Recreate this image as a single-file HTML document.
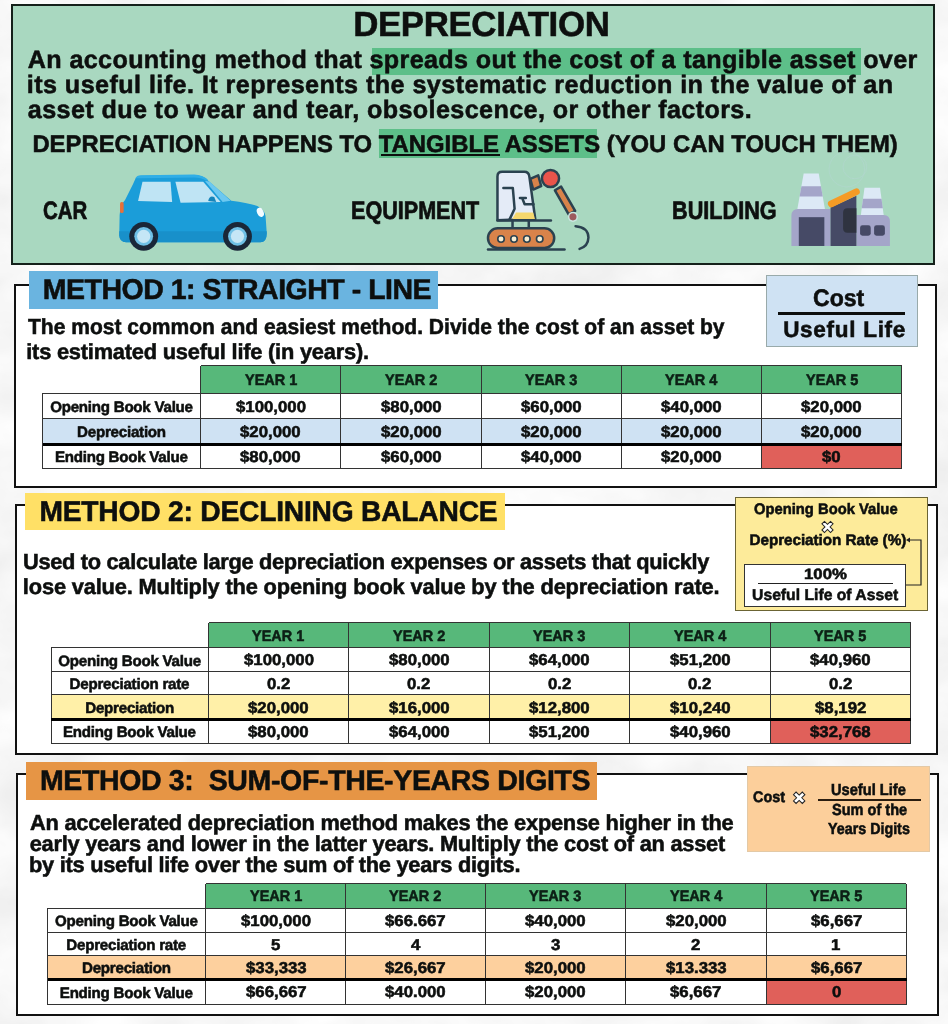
<!DOCTYPE html>
<html><head><meta charset="utf-8"><title>Depreciation</title>
<style>
html,body{margin:0;padding:0}
body{width:948px;height:1024px;position:relative;overflow:hidden;background:#efefef;font-family:"Liberation Sans","DejaVu Sans",sans-serif;font-weight:bold}
.r{position:absolute}
.t{text-rendering:geometricPrecision;-webkit-text-stroke:0.55px currentColor;position:absolute;white-space:pre;line-height:1;transform-origin:0 0;font-weight:bold}
svg{position:absolute;overflow:visible}
</style></head><body>
<svg style="left:0;top:0" width="948" height="1024"><filter id="mb" x="0" y="0" width="100%" height="100%"><feTurbulence type="fractalNoise" baseFrequency="0.011 0.017" numOctaves="4" seed="7"/><feColorMatrix type="matrix" values="0.22 0 0 0 0.815  0.22 0 0 0 0.815  0.22 0 0 0 0.815  0 0 0 0 1"/></filter><rect width="948" height="1024" filter="url(#mb)"/></svg>
<div class="r" style="left:11.20px;top:4.10px;width:923.80px;height:261.30px;background:#a9d8c0;border:2px solid #14201a;box-sizing:border-box;"></div>
<div class="r" style="left:372.00px;top:47.50px;width:488.70px;height:27.10px;background:#5dbf89;"></div>
<div class="r" style="left:379.00px;top:129.00px;width:218.40px;height:28.60px;background:#5dbf89;"></div>
<span class="t" style="left:353.16px;top:8.44px;font-size:34.88px;letter-spacing:-0.388px;color:#0d0f0e;">DEPRECIATION</span>
<span class="t" style="left:27.87px;top:47.68px;font-size:25.15px;letter-spacing:0.354px;color:#0d0f0e;">An accounting method that spreads out the cost of a tangible asset over</span>
<span class="t" style="left:26.74px;top:73.05px;font-size:25.15px;letter-spacing:0.442px;color:#0d0f0e;">its useful life. It represents the systematic reduction in the value of an</span>
<span class="t" style="left:27.77px;top:97.68px;font-size:25.15px;letter-spacing:0.389px;color:#0d0f0e;">asset due to wear and tear, obsolescence, or other factors.</span>
<span class="t" style="left:32.40px;top:132.79px;font-size:23.84px;letter-spacing:0.015px;color:#0d0f0e;">DEPRECIATION HAPPENS TO TANGIBLE ASSETS (YOU CAN TOUCH THEM)</span>
<div class="r" style="left:380.50px;top:154.00px;width:119.00px;height:2.20px;background:#0d0f0e;"></div>
<span class="t" style="left:42.66px;top:198.68px;font-size:25.15px;transform:scaleX(0.8129);color:#0d0f0e;-webkit-text-stroke:0.7px currentColor;">CAR</span>
<span class="t" style="left:350.55px;top:198.68px;font-size:25.15px;transform:scaleX(0.8582);color:#0d0f0e;-webkit-text-stroke:0.7px currentColor;">EQUIPMENT</span>
<span class="t" style="left:672.05px;top:198.68px;font-size:25.15px;transform:scaleX(0.8616);color:#0d0f0e;-webkit-text-stroke:0.7px currentColor;">BUILDING</span>
<div class="r" style="left:13.70px;top:284.10px;width:923.30px;height:204.40px;background:#fff;border:2px solid #111;box-sizing:border-box;"></div>
<div class="r" style="left:28.50px;top:271.30px;width:409.00px;height:37.45px;background:#6ab4e0;"></div>
<span class="t" style="left:42.79px;top:276.25px;font-size:28.49px;letter-spacing:-0.481px;color:#0d0f0e;">METHOD 1: STRAIGHT - LINE</span>
<span class="t" style="left:27.57px;top:315.84px;font-size:21.80px;transform:scaleX(0.9649);color:#0d0f0e;">The most common and easiest method. Divide the cost of an asset by</span>
<span class="t" style="left:26.27px;top:340.91px;font-size:21.80px;letter-spacing:-0.204px;color:#0d0f0e;">its estimated useful life (in years).</span>
<div class="r" style="left:765.50px;top:275.00px;width:152.50px;height:71.50px;background:#cfe2f3;border:1px solid #9aa;box-sizing:border-box;"></div>
<span class="t" style="left:813.25px;top:287.19px;font-size:23.84px;transform:scaleX(0.9674);color:#0d0f0e;">Cost</span>
<div class="r" style="left:778.00px;top:311.80px;width:127.20px;height:3.00px;background:#0d0f0e;"></div>
<span class="t" style="left:783.15px;top:318.77px;font-size:22.53px;letter-spacing:0.710px;color:#0d0f0e;">Useful Life</span>
<div class="r" style="left:200.50px;top:365.70px;width:701.30px;height:27.60px;background:#57b87a;"></div>
<div class="r" style="left:42.80px;top:393.30px;width:859.00px;height:25.40px;background:#fff;"></div>
<div class="r" style="left:42.80px;top:418.70px;width:859.00px;height:24.80px;background:#cfe2f3;"></div>
<div class="r" style="left:42.80px;top:443.50px;width:859.00px;height:24.80px;background:#fff;"></div>
<div class="r" style="left:761.30px;top:443.50px;width:140.50px;height:24.80px;background:#e0605a;"></div>
<div class="r" style="left:42.30px;top:393.30px;width:1.00px;height:75.00px;background:#333;"></div>
<div class="r" style="left:200.00px;top:365.70px;width:1.00px;height:102.60px;background:#333;"></div>
<div class="r" style="left:340.10px;top:365.70px;width:1.00px;height:102.60px;background:#333;"></div>
<div class="r" style="left:480.50px;top:365.70px;width:1.00px;height:102.60px;background:#333;"></div>
<div class="r" style="left:620.50px;top:365.70px;width:1.00px;height:102.60px;background:#333;"></div>
<div class="r" style="left:760.80px;top:365.70px;width:1.00px;height:102.60px;background:#333;"></div>
<div class="r" style="left:901.30px;top:365.70px;width:1.00px;height:102.60px;background:#333;"></div>
<div class="r" style="left:200.50px;top:365.20px;width:701.30px;height:1.00px;background:#333;"></div>
<div class="r" style="left:42.30px;top:392.80px;width:860.00px;height:1.00px;background:#333;"></div>
<div class="r" style="left:42.30px;top:418.20px;width:860.00px;height:1.00px;background:#333;"></div>
<div class="r" style="left:42.80px;top:442.80px;width:859.00px;height:2.80px;background:#000;"></div>
<div class="r" style="left:42.30px;top:467.80px;width:860.00px;height:1.00px;background:#333;"></div>
<span class="t" style="left:244.51px;top:372.74px;font-size:15.12px;transform:scaleX(0.9570);color:#0c1f15;">YEAR 1</span>
<span class="t" style="left:384.85px;top:372.74px;font-size:15.12px;transform:scaleX(0.9570);color:#0c1f15;">YEAR 2</span>
<span class="t" style="left:525.02px;top:372.74px;font-size:15.12px;transform:scaleX(0.9570);color:#0c1f15;">YEAR 3</span>
<span class="t" style="left:664.94px;top:372.74px;font-size:15.12px;transform:scaleX(0.9570);color:#0c1f15;">YEAR 4</span>
<span class="t" style="left:805.51px;top:372.74px;font-size:15.12px;transform:scaleX(0.9570);color:#0c1f15;">YEAR 5</span>
<span class="t" style="left:50.21px;top:399.74px;font-size:15.12px;letter-spacing:-0.244px;color:#0d0f0e;">Opening Book Value</span>
<span class="t" style="left:235.78px;top:400.05px;font-size:15.70px;transform:scaleX(1.0700);color:#0d0f0e;">$100,000</span>
<span class="t" style="left:380.69px;top:400.05px;font-size:15.70px;transform:scaleX(1.0700);color:#0d0f0e;">$80,000</span>
<span class="t" style="left:520.89px;top:400.04px;font-size:15.70px;transform:scaleX(1.0700);color:#0d0f0e;">$60,000</span>
<span class="t" style="left:661.04px;top:400.05px;font-size:15.70px;transform:scaleX(1.0700);color:#0d0f0e;">$40,000</span>
<span class="t" style="left:801.44px;top:400.05px;font-size:15.70px;transform:scaleX(1.0700);color:#0d0f0e;">$20,000</span>
<span class="t" style="left:77.12px;top:424.50px;font-size:15.12px;letter-spacing:-0.232px;color:#0d0f0e;">Depreciation</span>
<span class="t" style="left:240.44px;top:425.35px;font-size:15.70px;transform:scaleX(1.0700);color:#0d0f0e;">$20,000</span>
<span class="t" style="left:380.69px;top:425.35px;font-size:15.70px;transform:scaleX(1.0700);color:#0d0f0e;">$20,000</span>
<span class="t" style="left:520.89px;top:425.34px;font-size:15.70px;transform:scaleX(1.0700);color:#0d0f0e;">$20,000</span>
<span class="t" style="left:661.04px;top:425.35px;font-size:15.70px;transform:scaleX(1.0700);color:#0d0f0e;">$20,000</span>
<span class="t" style="left:801.44px;top:425.35px;font-size:15.70px;transform:scaleX(1.0700);color:#0d0f0e;">$20,000</span>
<span class="t" style="left:54.90px;top:450.37px;font-size:15.12px;letter-spacing:-0.241px;color:#0d0f0e;">Ending Book Value</span>
<span class="t" style="left:240.44px;top:450.08px;font-size:15.70px;transform:scaleX(1.0700);color:#0d0f0e;">$80,000</span>
<span class="t" style="left:380.69px;top:450.08px;font-size:15.70px;transform:scaleX(1.0700);color:#0d0f0e;">$60,000</span>
<span class="t" style="left:520.89px;top:450.07px;font-size:15.70px;transform:scaleX(1.0700);color:#0d0f0e;">$40,000</span>
<span class="t" style="left:661.04px;top:450.08px;font-size:15.70px;transform:scaleX(1.0700);color:#0d0f0e;">$20,000</span>
<span class="t" style="left:822.45px;top:450.08px;font-size:15.70px;transform:scaleX(1.0700);color:#0d0f0e;">$0</span>
<div class="r" style="left:14.80px;top:504.40px;width:923.20px;height:250.80px;background:#fff;border:2px solid #111;box-sizing:border-box;"></div>
<div class="r" style="left:25.40px;top:493.40px;width:479.60px;height:36.80px;background:#ffe066;"></div>
<span class="t" style="left:39.51px;top:497.03px;font-size:28.20px;letter-spacing:-0.209px;color:#0d0f0e;">METHOD 2: DECLINING BALANCE</span>
<span class="t" style="left:23.09px;top:550.71px;font-size:21.80px;letter-spacing:-0.316px;color:#0d0f0e;">Used to calculate large depreciation expenses or assets that quickly</span>
<span class="t" style="left:22.87px;top:576.11px;font-size:21.80px;letter-spacing:-0.157px;color:#0d0f0e;">lose value. Multiply the opening book value by the depreciation rate.</span>
<div class="r" style="left:208.50px;top:622.60px;width:702.00px;height:24.90px;background:#57b87a;"></div>
<div class="r" style="left:51.00px;top:647.50px;width:859.50px;height:23.80px;background:#fff;"></div>
<div class="r" style="left:51.00px;top:671.30px;width:859.50px;height:23.20px;background:#fff;"></div>
<div class="r" style="left:51.00px;top:694.50px;width:859.50px;height:24.50px;background:#fff0a8;"></div>
<div class="r" style="left:51.00px;top:719.00px;width:859.50px;height:24.40px;background:#fff;"></div>
<div class="r" style="left:770.00px;top:719.00px;width:140.50px;height:24.40px;background:#e0605a;"></div>
<div class="r" style="left:50.50px;top:647.50px;width:1.00px;height:95.90px;background:#333;"></div>
<div class="r" style="left:208.00px;top:622.60px;width:1.00px;height:120.80px;background:#333;"></div>
<div class="r" style="left:348.00px;top:622.60px;width:1.00px;height:120.80px;background:#333;"></div>
<div class="r" style="left:488.50px;top:622.60px;width:1.00px;height:120.80px;background:#333;"></div>
<div class="r" style="left:629.00px;top:622.60px;width:1.00px;height:120.80px;background:#333;"></div>
<div class="r" style="left:769.50px;top:622.60px;width:1.00px;height:120.80px;background:#333;"></div>
<div class="r" style="left:910.00px;top:622.60px;width:1.00px;height:120.80px;background:#333;"></div>
<div class="r" style="left:208.50px;top:622.10px;width:702.00px;height:1.00px;background:#333;"></div>
<div class="r" style="left:50.50px;top:647.00px;width:860.50px;height:1.00px;background:#333;"></div>
<div class="r" style="left:50.50px;top:670.80px;width:860.50px;height:1.00px;background:#333;"></div>
<div class="r" style="left:50.50px;top:694.00px;width:860.50px;height:1.00px;background:#333;"></div>
<div class="r" style="left:51.00px;top:718.30px;width:859.50px;height:2.80px;background:#000;"></div>
<div class="r" style="left:50.50px;top:742.90px;width:860.50px;height:1.00px;background:#333;"></div>
<span class="t" style="left:252.46px;top:628.67px;font-size:15.12px;transform:scaleX(0.9570);color:#0c1f15;">YEAR 1</span>
<span class="t" style="left:392.80px;top:628.67px;font-size:15.12px;transform:scaleX(0.9570);color:#0c1f15;">YEAR 2</span>
<span class="t" style="left:533.27px;top:628.67px;font-size:15.12px;transform:scaleX(0.9570);color:#0c1f15;">YEAR 3</span>
<span class="t" style="left:673.54px;top:628.67px;font-size:15.12px;transform:scaleX(0.9570);color:#0c1f15;">YEAR 4</span>
<span class="t" style="left:814.21px;top:628.67px;font-size:15.12px;transform:scaleX(0.9570);color:#0c1f15;">YEAR 5</span>
<span class="t" style="left:58.31px;top:653.94px;font-size:15.12px;letter-spacing:-0.244px;color:#0d0f0e;">Opening Book Value</span>
<span class="t" style="left:243.73px;top:653.08px;font-size:15.70px;transform:scaleX(1.0700);color:#0d0f0e;">$100,000</span>
<span class="t" style="left:388.64px;top:653.08px;font-size:15.70px;transform:scaleX(1.0700);color:#0d0f0e;">$80,000</span>
<span class="t" style="left:529.14px;top:653.08px;font-size:15.70px;transform:scaleX(1.0700);color:#0d0f0e;">$64,000</span>
<span class="t" style="left:669.64px;top:653.08px;font-size:15.70px;transform:scaleX(1.0700);color:#0d0f0e;">$51,200</span>
<span class="t" style="left:810.14px;top:653.08px;font-size:15.70px;transform:scaleX(1.0700);color:#0d0f0e;">$40,960</span>
<span class="t" style="left:69.52px;top:677.37px;font-size:15.12px;letter-spacing:-0.217px;color:#0d0f0e;">Depreciation rate</span>
<span class="t" style="left:266.83px;top:677.08px;font-size:15.70px;transform:scaleX(1.0700);color:#0d0f0e;">0.2</span>
<span class="t" style="left:407.08px;top:677.08px;font-size:15.70px;transform:scaleX(1.0700);color:#0d0f0e;">0.2</span>
<span class="t" style="left:547.58px;top:677.08px;font-size:15.70px;transform:scaleX(1.0700);color:#0d0f0e;">0.2</span>
<span class="t" style="left:688.08px;top:677.08px;font-size:15.70px;transform:scaleX(1.0700);color:#0d0f0e;">0.2</span>
<span class="t" style="left:828.58px;top:677.08px;font-size:15.70px;transform:scaleX(1.0700);color:#0d0f0e;">0.2</span>
<span class="t" style="left:85.22px;top:701.07px;font-size:15.12px;letter-spacing:-0.232px;color:#0d0f0e;">Depreciation</span>
<span class="t" style="left:248.39px;top:700.78px;font-size:15.70px;transform:scaleX(1.0700);color:#0d0f0e;">$20,000</span>
<span class="t" style="left:388.64px;top:700.78px;font-size:15.70px;transform:scaleX(1.0700);color:#0d0f0e;">$16,000</span>
<span class="t" style="left:529.14px;top:700.78px;font-size:15.70px;transform:scaleX(1.0700);color:#0d0f0e;">$12,800</span>
<span class="t" style="left:669.64px;top:700.78px;font-size:15.70px;transform:scaleX(1.0700);color:#0d0f0e;">$10,240</span>
<span class="t" style="left:814.81px;top:700.78px;font-size:15.70px;transform:scaleX(1.0700);color:#0d0f0e;">$8,192</span>
<span class="t" style="left:63.00px;top:724.60px;font-size:15.12px;letter-spacing:-0.241px;color:#0d0f0e;">Ending Book Value</span>
<span class="t" style="left:248.39px;top:724.68px;font-size:15.70px;transform:scaleX(1.0700);color:#0d0f0e;">$80,000</span>
<span class="t" style="left:388.64px;top:724.68px;font-size:15.70px;transform:scaleX(1.0700);color:#0d0f0e;">$64,000</span>
<span class="t" style="left:529.14px;top:724.68px;font-size:15.70px;transform:scaleX(1.0700);color:#0d0f0e;">$51,200</span>
<span class="t" style="left:669.64px;top:724.68px;font-size:15.70px;transform:scaleX(1.0700);color:#0d0f0e;">$40,960</span>
<span class="t" style="left:810.05px;top:724.68px;font-size:15.70px;transform:scaleX(1.0700);color:#0d0f0e;">$32,768</span>
<div class="r" style="left:734.50px;top:496.80px;width:193.30px;height:114.70px;background:#fdeb9a;border:1.2px solid #6b6434;box-sizing:border-box;"></div>
<span class="t" style="left:754.39px;top:501.92px;font-size:15.26px;transform:scaleX(0.9684);color:#0d0f0e;">Opening Book Value</span>
<span class="t" style="left:820.50px;top:519.82px;font-size:16.72px;transform:scaleX(1.0000);color:#fff;-webkit-text-stroke:1px #222;">✖</span>
<span class="t" style="left:749.48px;top:533.05px;font-size:15.26px;letter-spacing:-0.042px;color:#0d0f0e;">Depreciation Rate (%)</span>
<div class="r" style="left:744.00px;top:564.00px;width:161.50px;height:43.00px;background:#fff;border:1px solid #333;box-sizing:border-box;"></div>
<span class="t" style="left:803.75px;top:568.30px;font-size:14.97px;transform:scaleX(1.1200);color:#0d0f0e;">100%</span>
<div class="r" style="left:758.00px;top:582.50px;width:135.00px;height:1.20px;background:#222;"></div>
<span class="t" style="left:752.06px;top:587.68px;font-size:15.70px;letter-spacing:0.013px;color:#0d0f0e;">Useful Life of Asset</span>
<svg style="left:0;top:0" width="948" height="1024"><path d="M908 540 H921 V585 H906" fill="none" stroke="#222" stroke-width="1.2"/><path d="M906 540 l4 -2.5 v5z" fill="#222"/></svg>
<div class="r" style="left:15.50px;top:772.50px;width:923.70px;height:243.20px;background:#fff;border:2px solid #111;box-sizing:border-box;"></div>
<div class="r" style="left:26.20px;top:761.60px;width:571.10px;height:38.40px;background:#e69545;"></div>
<span class="t" style="left:39.89px;top:766.85px;font-size:28.49px;letter-spacing:-0.335px;color:#0d0f0e;">METHOD 3:  SUM-OF-THE-YEARS DIGITS</span>
<span class="t" style="left:29.95px;top:811.74px;font-size:21.80px;letter-spacing:-0.224px;color:#0d0f0e;">An accelerated depreciation method makes the expense higher in the</span>
<span class="t" style="left:29.65px;top:832.54px;font-size:21.80px;letter-spacing:-0.235px;color:#0d0f0e;">early years and lower in the latter years. Multiply the cost of an asset</span>
<span class="t" style="left:29.06px;top:854.04px;font-size:21.80px;letter-spacing:-0.268px;color:#0d0f0e;">by its useful life over the sum of the years digits.</span>
<div class="r" style="left:205.60px;top:883.70px;width:700.90px;height:24.30px;background:#57b87a;"></div>
<div class="r" style="left:47.50px;top:908.00px;width:859.00px;height:24.30px;background:#fff;"></div>
<div class="r" style="left:47.50px;top:932.30px;width:859.00px;height:23.30px;background:#fff;"></div>
<div class="r" style="left:47.50px;top:955.60px;width:859.00px;height:23.40px;background:#fdd09e;"></div>
<div class="r" style="left:47.50px;top:979.00px;width:859.00px;height:25.20px;background:#fff;"></div>
<div class="r" style="left:766.00px;top:979.00px;width:140.50px;height:25.20px;background:#e0605a;"></div>
<div class="r" style="left:47.00px;top:908.00px;width:1.00px;height:96.20px;background:#333;"></div>
<div class="r" style="left:205.10px;top:883.70px;width:1.00px;height:120.50px;background:#333;"></div>
<div class="r" style="left:345.30px;top:883.70px;width:1.00px;height:120.50px;background:#333;"></div>
<div class="r" style="left:484.50px;top:883.70px;width:1.00px;height:120.50px;background:#333;"></div>
<div class="r" style="left:625.00px;top:883.70px;width:1.00px;height:120.50px;background:#333;"></div>
<div class="r" style="left:765.50px;top:883.70px;width:1.00px;height:120.50px;background:#333;"></div>
<div class="r" style="left:906.00px;top:883.70px;width:1.00px;height:120.50px;background:#333;"></div>
<div class="r" style="left:205.60px;top:883.20px;width:700.90px;height:1.00px;background:#333;"></div>
<div class="r" style="left:47.00px;top:907.50px;width:860.00px;height:1.00px;background:#333;"></div>
<div class="r" style="left:47.00px;top:931.80px;width:860.00px;height:1.00px;background:#333;"></div>
<div class="r" style="left:47.00px;top:955.10px;width:860.00px;height:1.00px;background:#333;"></div>
<div class="r" style="left:47.50px;top:978.30px;width:859.00px;height:2.80px;background:#000;"></div>
<div class="r" style="left:47.00px;top:1003.70px;width:860.00px;height:1.00px;background:#333;"></div>
<span class="t" style="left:249.66px;top:888.75px;font-size:15.12px;transform:scaleX(0.9570);color:#0c1f15;">YEAR 1</span>
<span class="t" style="left:389.45px;top:888.75px;font-size:15.12px;transform:scaleX(0.9570);color:#0c1f15;">YEAR 2</span>
<span class="t" style="left:529.27px;top:888.75px;font-size:15.12px;transform:scaleX(0.9570);color:#0c1f15;">YEAR 3</span>
<span class="t" style="left:669.54px;top:888.75px;font-size:15.12px;transform:scaleX(0.9570);color:#0c1f15;">YEAR 4</span>
<span class="t" style="left:810.21px;top:888.75px;font-size:15.12px;transform:scaleX(0.9570);color:#0c1f15;">YEAR 5</span>
<span class="t" style="left:55.11px;top:913.55px;font-size:15.12px;letter-spacing:-0.244px;color:#0d0f0e;">Opening Book Value</span>
<span class="t" style="left:240.93px;top:913.57px;font-size:15.70px;transform:scaleX(1.0700);color:#0d0f0e;">$100,000</span>
<span class="t" style="left:385.31px;top:913.58px;font-size:15.70px;transform:scaleX(1.0700);color:#0d0f0e;">$66.667</span>
<span class="t" style="left:525.14px;top:913.58px;font-size:15.70px;transform:scaleX(1.0700);color:#0d0f0e;">$40,000</span>
<span class="t" style="left:665.64px;top:913.58px;font-size:15.70px;transform:scaleX(1.0700);color:#0d0f0e;">$20,000</span>
<span class="t" style="left:810.84px;top:913.58px;font-size:15.70px;transform:scaleX(1.0700);color:#0d0f0e;">$6,667</span>
<span class="t" style="left:66.32px;top:938.47px;font-size:15.12px;letter-spacing:-0.217px;color:#0d0f0e;">Depreciation rate</span>
<span class="t" style="left:271.00px;top:938.18px;font-size:15.70px;transform:scaleX(1.0700);color:#0d0f0e;">5</span>
<span class="t" style="left:410.64px;top:938.18px;font-size:15.70px;transform:scaleX(1.0700);color:#0d0f0e;">4</span>
<span class="t" style="left:550.69px;top:938.18px;font-size:15.70px;transform:scaleX(1.0700);color:#0d0f0e;">3</span>
<span class="t" style="left:691.12px;top:938.18px;font-size:15.70px;transform:scaleX(1.0700);color:#0d0f0e;">2</span>
<span class="t" style="left:831.28px;top:938.18px;font-size:15.70px;transform:scaleX(1.0700);color:#0d0f0e;">1</span>
<span class="t" style="left:82.02px;top:960.70px;font-size:15.12px;letter-spacing:-0.232px;color:#0d0f0e;">Depreciation</span>
<span class="t" style="left:245.55px;top:960.88px;font-size:15.70px;transform:scaleX(1.0700);color:#0d0f0e;">$33,333</span>
<span class="t" style="left:385.31px;top:960.88px;font-size:15.70px;transform:scaleX(1.0700);color:#0d0f0e;">$26,667</span>
<span class="t" style="left:525.14px;top:960.88px;font-size:15.70px;transform:scaleX(1.0700);color:#0d0f0e;">$20,000</span>
<span class="t" style="left:665.60px;top:960.88px;font-size:15.70px;transform:scaleX(1.0700);color:#0d0f0e;">$13.333</span>
<span class="t" style="left:810.84px;top:960.88px;font-size:15.70px;transform:scaleX(1.0700);color:#0d0f0e;">$6,667</span>
<span class="t" style="left:59.80px;top:985.77px;font-size:15.12px;letter-spacing:-0.241px;color:#0d0f0e;">Ending Book Value</span>
<span class="t" style="left:245.61px;top:985.48px;font-size:15.70px;transform:scaleX(1.0700);color:#0d0f0e;">$66,667</span>
<span class="t" style="left:385.29px;top:985.48px;font-size:15.70px;transform:scaleX(1.0700);color:#0d0f0e;">$40.000</span>
<span class="t" style="left:525.14px;top:985.48px;font-size:15.70px;transform:scaleX(1.0700);color:#0d0f0e;">$20,000</span>
<span class="t" style="left:670.34px;top:985.48px;font-size:15.70px;transform:scaleX(1.0700);color:#0d0f0e;">$6,667</span>
<span class="t" style="left:831.59px;top:985.48px;font-size:15.70px;transform:scaleX(1.0700);color:#0d0f0e;">0</span>
<div class="r" style="left:747.00px;top:766.00px;width:183.00px;height:86.00px;background:#fccf9b;border:1px solid #e3c9a6;box-sizing:border-box;"></div>
<span class="t" style="left:753.21px;top:789.80px;font-size:15.41px;transform:scaleX(0.9333);color:#0d0f0e;">Cost</span>
<span class="t" style="left:792.11px;top:790.05px;font-size:17.15px;transform:scaleX(1.0000);color:#fff;-webkit-text-stroke:1px #222;">✖</span>
<span class="t" style="left:830.62px;top:783.43px;font-size:15.99px;transform:scaleX(0.9162);color:#0d0f0e;">Useful Life</span>
<div class="r" style="left:818.00px;top:799.40px;width:102.70px;height:1.40px;background:#2a1d10;"></div>
<span class="t" style="left:832.08px;top:802.63px;font-size:15.99px;transform:scaleX(0.9096);color:#0d0f0e;">Sum of the</span>
<span class="t" style="left:827.76px;top:822.43px;font-size:15.99px;transform:scaleX(0.8942);color:#0d0f0e;">Years Digits</span>
<svg style="left:100px;top:165px" width="190" height="95" viewBox="0 0 948 474">
<path d="M175 72 Q180 55 205 54 L470 50 Q515 52 540 78 L655 178 Q740 188 785 205 Q820 222 826 255 L832 340 Q832 384 800 386 L130 386 Q98 384 96 350 L98 250 Q100 200 125 175 L165 95 Z" fill="#1b9dd9"/>
<path d="M96 330 L832 330 L832 340 Q832 384 800 386 L130 386 Q98 384 96 350 Z" fill="#1890ca"/>
<path d="M178 66 Q182 52 205 51 L470 47 Q512 49 538 72 L530 78 Q505 62 470 62 L205 66 Z" fill="#30aee6"/>
<path d="M212 84 L352 84 L360 184 L190 180 Z" fill="#bfe4f4"/>
<path d="M376 84 L515 84 L602 184 L402 188 Z" fill="#bfe4f4"/>
<path d="M540 180 Q545 150 570 160 L580 184 Z" fill="#1685bb"/>
<path d="M524 80 L546 82 L652 178 L612 184 Z" fill="#6cc8f0"/>
<ellipse cx="800" cy="236" rx="16" ry="24" fill="#f4fbff" transform="rotate(-25 800 236)"/>
<rect x="100" y="185" width="18" height="55" rx="8" fill="#e8703a"/>
<circle cx="218" cy="356" r="72" fill="#1a2738"/><circle cx="218" cy="356" r="47" fill="#6fc0e6"/><circle cx="218" cy="356" r="33" fill="#c5e6f6"/>
<circle cx="686" cy="356" r="72" fill="#1a2738"/><circle cx="686" cy="356" r="47" fill="#6fc0e6"/><circle cx="686" cy="356" r="33" fill="#c5e6f6"/>
</svg>
<svg style="left:470px;top:160px" width="140" height="100" viewBox="0 0 948 677">
<g stroke="#2b4250" stroke-width="17" stroke-linecap="round" stroke-linejoin="round" fill="none">
<path d="M408 128 L462 104 L482 176 L428 200 Z" fill="#d9834a"/>
<path d="M575 205 L617 180 L712 345 L668 368 Z" fill="#d9834a"/>
<path d="M186 408 L186 112 Q186 80 218 80 L368 80 Q398 80 402 112 L442 400 Z" fill="#e4ebf7"/>
<path d="M312 356 L428 356 L440 400 L286 400 Z" fill="#f5d76e" stroke="none"/>
<path d="M226 190 L290 190 L302 330 L268 402"/>
<path d="M338 258 L378 258"/><path d="M356 264 L370 300 L430 300"/>
<path d="M186 410 L548 410"/>
<path d="M288 416 L288 460"/><path d="M398 416 L398 460"/>
<rect x="122" y="462" width="448" height="134" rx="66" fill="#d9834a"/>
<path d="M122 606 L640 606"/>
<circle cx="545" cy="125" r="58" fill="#e9544b"/>
<path d="M715 448 Q800 455 802 525 Q800 585 742 602"/>
</g>
<circle cx="697" cy="385" r="34" fill="#c9e6df"/><circle cx="697" cy="385" r="24" fill="#9c5b5e"/>
<g fill="#f8eed2" stroke="#2b4250" stroke-width="11"><circle cx="210" cy="535" r="22"/><circle cx="298" cy="535" r="22"/><circle cx="385" cy="535" r="22"/><circle cx="472" cy="535" r="22"/></g>
</svg>
<svg style="left:770px;top:150px" width="140" height="110" viewBox="0 0 948 745">
<g fill="none" stroke="#b4d6d2" stroke-width="5" opacity="0.7"><circle cx="520" cy="130" r="120"/><circle cx="575" cy="115" r="80"/></g>
<path d="M228 160 L330 160 L372 402 L185 402 Z" fill="#dce9f6"/>
<path d="M213 245 L345 245 L357 315 L200 315 Z" fill="#a4a5c9"/>
<path d="M640 255 L745 255 L770 442 L615 442 Z" fill="#dce9f6"/>
<path d="M630 330 L755 330 L764 395 L621 395 Z" fill="#a4a5c9"/>
<path d="M145 650 L145 445 Q145 400 190 400 L410 400 L410 650 Z" fill="#a4a5c9"/>
<rect x="195" y="455" width="173" height="195" fill="#464a66"/>
<path d="M585 650 L585 440 L770 440 Q812 440 812 485 L812 650 Z" fill="#a4a5c9"/>
<path d="M410 650 L410 390 L585 310 L585 650 Z" fill="#464a66"/>
<path d="M495 425 Q495 395 525 395 L585 395 L585 560 L525 560 Q495 560 495 530 Z" fill="#2f3340"/>
<path d="M415 365 L585 283" stroke="#f59b25" stroke-width="46" stroke-linecap="round"/>
<rect x="610" y="510" width="72" height="70" rx="16" fill="#464a66"/>
<rect x="705" y="510" width="73" height="70" rx="16" fill="#464a66"/>
</svg>
</body></html>
